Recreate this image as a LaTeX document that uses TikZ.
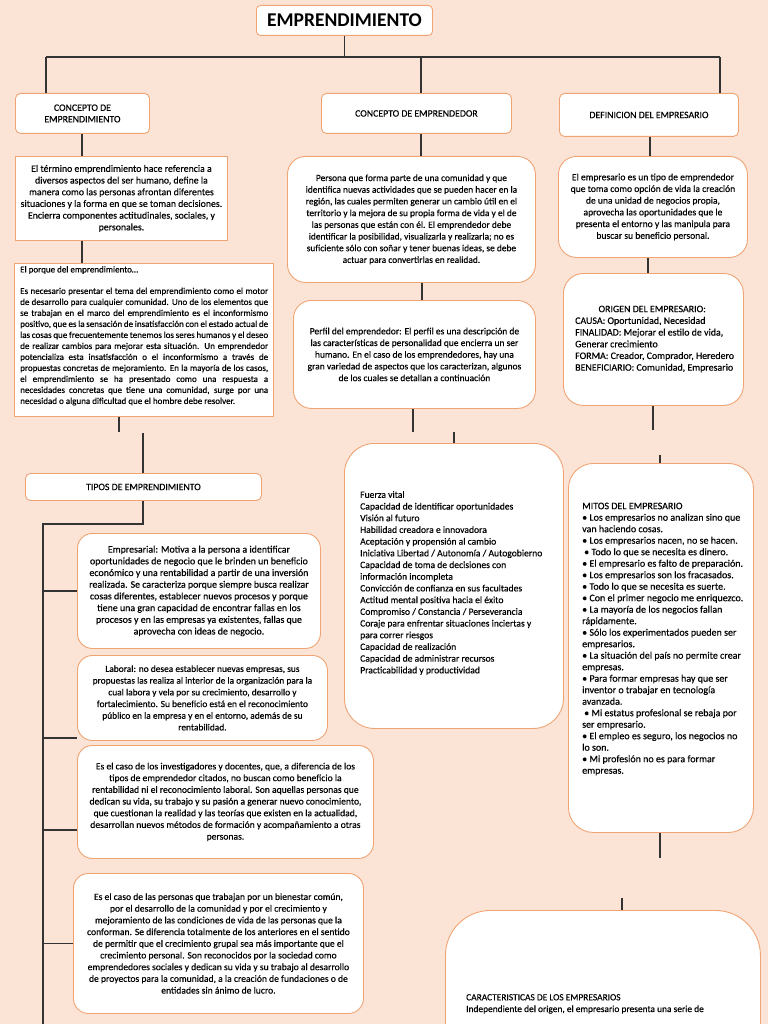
\documentclass[tikz,border=0pt]{standalone}
\usepackage{fontspec}
\setmainfont{Carlito}
\newfontfamily\bodyf{Carlito}[FakeBold=0.35]
\definecolor{bgc}{HTML}{FBE4D6}
\definecolor{edgec}{HTML}{F0A474}
\definecolor{linec}{HTML}{333333}
\newcommand{\fs}[1]{\fontsize{#1}{11.7}\bodyf\selectfont}
\newcommand{\jl}[1]{\makebox[248pt][s]{#1}\\}
\tikzset{
  box/.style={draw=edgec, fill=white, line width=0.9pt, inner sep=0pt, anchor=north west},
  conn/.style={draw=linec, line width=1.4pt},
  txt/.style={inner sep=0pt, font=\fs{9.6}},
  hdr/.style={inner sep=0pt, font=\fontsize{9.8}{11.5}\bodyf\selectfont},
}
\newcommand{\bx}[6]{\node[box, rounded corners=#6, minimum width={#4-#2}, minimum height={#5-#3}] (#1) at (#2,#3) {};}
\begin{document}
\begin{tikzpicture}[x=1pt,y=-1pt]
\fill[bgc] (0,0) rectangle (768,1024);
\useasboundingbox (0,0) rectangle (768,1024);
% boxes
\bx{title}{256}{5}{432}{35}{4pt}
\bx{c1}{15}{93}{149}{133}{5pt}
\bx{c2}{321}{93}{511}{133}{5pt}
\bx{c3}{559}{93}{738}{136}{5pt}
\bx{term}{15}{156}{227}{240}{0pt}
\bx{porque}{14}{263}{273}{416}{0pt}
\bx{persona}{287}{156}{535}{282}{18pt}
\bx{perfil}{293}{300}{535}{408}{18pt}
\bx{empdef}{558}{156}{747}{257}{18pt}
\bx{origen}{563}{273}{743}{405}{20pt}
\bx{lista}{344}{443}{563}{728}{30pt}
\bx{mitos}{568}{463}{753}{832}{25pt}
\bx{tipos}{25}{473}{261}{500}{5pt}
\bx{empres}{77}{533}{320}{648}{15pt}
\bx{laboral}{77}{655}{327}{740}{15pt}
\bx{invest}{77}{745}{373}{858}{15pt}
\bx{social}{73}{873}{363}{1013}{15pt}
\bx{caract}{445}{910}{760}{1130}{45pt}
% texts
\node[inner sep=0pt, font=\fontsize{19.5}{22}\bfseries\selectfont] (ttitle) at (title.center) {EMPRENDIMIENTO};
\node[hdr, align=center] (tc1) at (c1.center) {CONCEPTO DE\\EMPRENDIMIENTO};
\node[hdr, align=center] (tc2) at (c2.center) {CONCEPTO DE EMPRENDEDOR};
\node[hdr, align=center] (tc3) at (c3.center) {DEFINICION DEL EMPRESARIO};
\node[hdr, align=center] (ttipos) at (tipos.center) {TIPOS DE EMPRENDIMIENTO};
\node[txt, font=\fs{9.8}, align=center] (tterm) at (term.center) {El término emprendimiento hace referencia a\\diversos aspectos del ser humano, define la\\manera como las personas afrontan diferentes\\situaciones y la forma en que se toman decisiones.\\Encierra componentes actitudinales, sociales, y\\personales.};
\node[inner sep=0pt, font=\fontsize{9.0}{11}\bodyf\selectfont, align=left, anchor=north west] (tporque) at (20,266) {El porque del emprendimiento…\\[10.5pt]\jl{Es necesario presentar el tema del emprendimiento como el motor}\jl{de desarrollo para cualquier comunidad. Uno de los elementos que}\jl{se trabajan en el marco del emprendimiento es el inconformismo}\jl{positivo, que es la sensación de insatisfacción con el estado actual de}\jl{las cosas que frecuentemente tenemos los seres humanos y el deseo}\jl{de realizar cambios para mejorar esta situación. Un emprendedor}\jl{potencializa esta insatisfacción o el inconformismo a través de}\jl{propuestas concretas de mejoramiento. En la mayoría de los casos,}\jl{el emprendimiento se ha presentado como una respuesta a}\jl{necesidades concretas que tiene una comunidad, surge por una}necesidad o alguna dificultad que el hombre debe resolver.};
\node[txt, font=\fs{9.4}, align=center] (tpersona) at (persona.center) {Persona que forma parte de una comunidad y que\\identifica nuevas actividades que se pueden hacer en la\\región, las cuales permiten generar un cambio útil en el\\territorio y la mejora de su propia forma de vida y el de\\las personas que están con él. El emprendedor debe\\identificar la posibilidad, visualizarla y realizarla; no es\\suficiente sólo con soñar y tener buenas ideas, se debe\\actuar para convertirlas en realidad.};
\node[txt, font=\fs{9.5}, align=center] (tperfil) at (perfil.center) {Perfil del emprendedor: El perfil es una descripción de\\las características de personalidad que encierra un ser\\humano. En el caso de los emprendedores, hay una\\gran variedad de aspectos que los caracterizan, algunos\\de los cuales se detallan a continuación};
\node[txt, font=\fs{9.6}, align=center] (tempdef) at (empdef.center) {El empresario es un tipo de emprendedor\\que toma como opción de vida la creación\\de una unidad de negocios propia,\\aprovecha las oportunidades que le\\presenta el entorno y las manipula para\\buscar su beneficio personal.};
\node[txt, font=\fs{9.9}, align=left, anchor=west] (torigen) at (575,339) {\makebox[154pt][c]{ORIGEN DEL EMPRESARIO:}\\CAUSA: Oportunidad, Necesidad\\FINALIDAD: Mejorar el estilo de vida,\\Generar crecimiento\\FORMA: Creador, Comprador, Heredero\\BENEFICIARIO: Comunidad, Empresario};
\node[txt, font=\fs{9.6}, align=left, anchor=west] (tlista) at (360,583) {Fuerza vital\\Capacidad de identificar oportunidades\\Visión al futuro\\Habilidad creadora e innovadora\\Aceptación y propensión al cambio\\Iniciativa Libertad / Autonomía / Autogobierno\\Capacidad de toma de decisiones con\\información incompleta\\Convicción de confianza en sus facultades\\Actitud mental positiva hacia el éxito\\Compromiso / Constancia / Perseverancia\\Coraje para enfrentar situaciones inciertas y\\para correr riesgos\\Capacidad de realización\\Capacidad de administrar recursos\\Practicabilidad y productividad};
\node[txt, font=\fontsize{10}{11.5}\bodyf\selectfont, align=left, anchor=west] (tmitos) at (582,639) {MITOS DEL EMPRESARIO\\• Los empresarios no analizan sino que\\van haciendo cosas.\\• Los empresarios nacen, no se hacen.\\\hspace*{2pt}• Todo lo que se necesita es dinero.\\• El empresario es falto de preparación.\\• Los empresarios son los fracasados.\\• Todo lo que se necesita es suerte.\\• Con el primer negocio me enriquezco.\\• La mayoría de los negocios fallan\\rápidamente.\\• Sólo los experimentados pueden ser\\empresarios.\\• La situación del país no permite crear\\empresas.\\• Para formar empresas hay que ser\\inventor o trabajar en tecnología\\avanzada.\\\hspace*{2pt}• Mi estatus profesional se rebaja por\\ser empresario.\\• El empleo es seguro, los negocios no\\lo son.\\• Mi profesión no es para formar\\empresas.};
\node[txt, font=\fs{9.9}, align=center] (tempres) at (empres.center) {Empresarial: Motiva a la persona a identificar\\oportunidades de negocio que le brinden un beneficio\\económico y una rentabilidad a partir de una inversión\\realizada. Se caracteriza porque siempre busca realizar\\cosas diferentes, establecer nuevos procesos y porque\\tiene una gran capacidad de encontrar fallas en los\\procesos y en las empresas ya existentes, fallas que\\aprovecha con ideas de negocio.};
\node[txt, font=\fs{9.4}, align=center] (tlaboral) at (laboral.center) {Laboral: no desea establecer nuevas empresas, sus\\propuestas las realiza al interior de la organización para la\\cual labora y vela por su crecimiento, desarrollo y\\fortalecimiento. Su beneficio está en el reconocimiento\\público en la empresa y en el entorno, además de su\\rentabilidad.};
\node[txt, font=\fs{9.6}, align=center] (tinvest) at (invest.center) {Es el caso de los investigadores y docentes, que, a diferencia de los\\tipos de emprendedor citados, no buscan como beneficio la\\rentabilidad ni el reconocimiento laboral. Son aquellas personas que\\dedican su vida, su trabajo y su pasión a generar nuevo conocimiento,\\que cuestionan la realidad y las teorías que existen en la actualidad,\\desarrollan nuevos métodos de formación y acompañamiento a otras\\personas.};
\node[txt, font=\fs{9.6}, align=center] (tsocial) at (social.center) {Es el caso de las personas que trabajan por un bienestar común,\\por el desarrollo de la comunidad y por el crecimiento y\\mejoramiento de las condiciones de vida de las personas que la\\conforman. Se diferencia totalmente de los anteriores en el sentido\\de permitir que el crecimiento grupal sea más importante que el\\crecimiento personal. Son reconocidos por la sociedad como\\emprendedores sociales y dedican su vida y su trabajo al desarrollo\\de proyectos para la comunidad, a la creación de fundaciones o de\\entidades sin ánimo de lucro.};
\node[txt, font=\fs{9.4}, align=left, anchor=north west] (tcaract) at (466,994) {CARACTERISTICAS DE LOS EMPRESARIOS\\Independiente del origen, el empresario presenta una serie de};
% junction coordinates
\coordinate (barL) at (46,57);
\coordinate (barR) at (720,57);
\coordinate (j2) at (421,57);
\coordinate (k1) at (82,0);
\coordinate (k2) at (421,0);
\coordinate (k3) at (650,0);
\coordinate (k4) at (422,0);
\coordinate (k5) at (648,0);
\coordinate (e1) at (119,432);
\coordinate (s1) at (143,433);
\coordinate (t1) at (143,524);
\coordinate (t2) at (43,524);
\coordinate (t3) at (43,1030);
\coordinate (u2) at (43,738);
\coordinate (u3) at (43,830);
\coordinate (e2) at (413,432);
\coordinate (s2) at (454,432);
\coordinate (e3) at (653,430);
\coordinate (s3) at (660,455);
\coordinate (e4) at (660,858);
\coordinate (s4) at (622,898);
% connectors
\draw[conn] (title.south) -- (title.south |- barL);
\draw[conn] (barL) -- (barR);
\draw[conn] (barL) -- (barL |- c1.north);
\draw[conn] (j2) -- (j2 |- c2.north);
\draw[conn] (barR) -- (barR |- c3.north);
\draw[conn] (k1 |- c1.south) -- (k1 |- term.north);
\draw[conn] (k2 |- c2.south) -- (k2 |- persona.north);
\draw[conn] (k3 |- c3.south) -- (k3 |- empdef.north);
\draw[conn] (k1 |- term.south) -- (k1 |- porque.north);
\draw[conn] (k4 |- persona.south) -- (k4 |- perfil.north);
\draw[conn] (k5 |- empdef.south) -- (k5 |- origen.north);
\draw[conn] (e1 |- porque.south) -- (e1);
\draw[conn] (s1) -- (s1 |- tipos.north);
\draw[conn] (s1 |- tipos.south) -- (t1) -- (t2) -- (t3);
\draw[conn] (t2 |- empres.west) -- (empres.west);
\draw[conn] (u2) -- (u2 -| laboral.west);
\draw[conn] (u3) -- (u3 -| invest.west);
\draw[conn] (t2 |- social.west) -- (social.west);
\draw[conn] (e2 |- perfil.south) -- (e2);
\draw[conn] (s2) -- (s2 |- lista.north);
\draw[conn] (e3 |- origen.south) -- (e3);
\draw[conn] (s3) -- (s3 |- mitos.north);
\draw[conn] (e4 |- mitos.south) -- (e4);
\draw[conn] (s4) -- (s4 |- caract.north);
\end{tikzpicture}
\end{document}
